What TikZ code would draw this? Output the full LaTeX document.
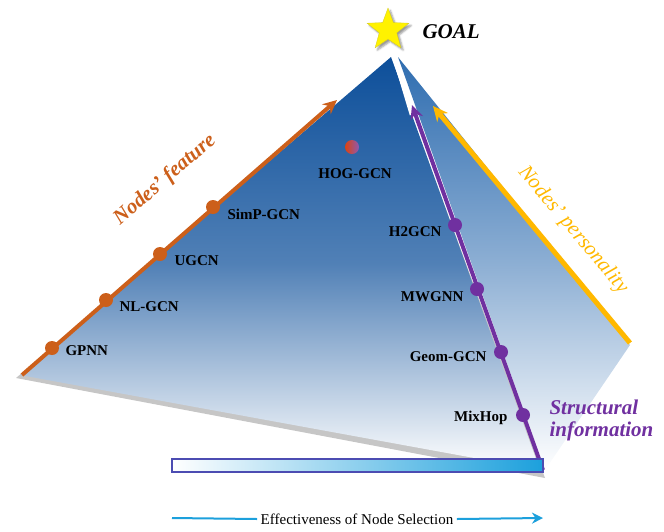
\documentclass[tikz,border=0pt]{standalone}
\usepackage{fontspec}
\setmainfont{Liberation Serif}
\usetikzlibrary{shapes.geometric,arrows.meta,shadows.blur}
\definecolor{dblue}{HTML}{0D4F9A}
\definecolor{rblue}{HTML}{2F6DB0}
\definecolor{oran}{HTML}{CC5F1A}
\definecolor{purp}{HTML}{7030A0}
\definecolor{yell}{HTML}{FFB800}
\definecolor{barb}{HTML}{1CA0DC}
\tikzset{
 odot/.style={circle,fill=oran,inner sep=0pt,minimum size=14pt},
 pdot/.style={circle,fill=purp,inner sep=0pt,minimum size=14pt},
 lab/.style={font=\bfseries\fontsize{15}{17}\selectfont},
 big/.style={font=\bfseries\itshape\fontsize{21}{22}\selectfont}
}
\begin{document}
\begin{tikzpicture}[x=1pt,y=-1pt]
\useasboundingbox (0,0) rectangle (664,531);
% faces
\fill[gray!45] (391,60) -- (16,378) -- (545,478) -- cycle;
\shade[top color=dblue,bottom color=white,middle color=dblue!72!white] (391,57) -- (20,375) -- (540,470) -- cycle;
\shade[top color=rblue,bottom color=white,middle color=rblue!55!white] (398,57) -- (630,345) -- (545,470) -- cycle;
\draw[white,line width=2.5pt] (394,58) -- (411,115);
% orange
\coordinate (o0) at (22,375); \coordinate (o1) at (337,100);
\draw[oran,line width=4pt,-{Stealth[length=14pt,width=13pt]}] (o0) -- (o1);
\node[odot] (gp) at (52,348) {}; \node[lab,anchor=west] at (62,351) {GPNN};
\node[odot] (nl) at (106,300) {}; \node[lab,anchor=west] at (116,307) {NL-GCN};
\node[odot] (ug) at (160,254) {}; \node[lab,anchor=west] at (171,261) {UGCN};
\node[odot] (sp) at (213,207) {}; \node[lab,anchor=west] at (224,214) {SimP-GCN};
\node[text=oran,font=\bfseries\itshape\fontsize{21}{22}\selectfont,rotate=41] (nf) at (165,180) {Nodes' feature};
% HOG
\node[circle,inner sep=0pt,minimum size=14pt,left color=oran!70!red,right color=purp!80] (hog) at (352,147) {};
\node[lab] at (355,174) {HOG-GCN};
% purple
\coordinate (p0) at (543,470); \coordinate (p1) at (412,105);
\draw[purp,line width=4pt,-{Stealth[length=14pt,width=13pt]}] (p0) -- (p1);
\node[pdot] (h2) at (455,225) {}; \node[lab,anchor=east] at (445,232) {H2GCN};
\node[pdot] (mw) at (477,289) {}; \node[lab,anchor=east] at (467,297) {MWGNN};
\node[pdot] (ge) at (501,352) {}; \node[lab,anchor=east] at (490,357) {Geom-GCN};
\node[pdot] (mh) at (523,415) {}; \node[lab,anchor=east] at (511,418) {MixHop};
\node[text=purp,big,align=left,anchor=west] (si) at (546,420) {Structural\\information};
% yellow
\coordinate (y0) at (630,343); \coordinate (y1) at (433,106);
\draw[yell,line width=5pt,-{Stealth[length=15pt,width=14pt]}] (y0) -- (y1);
\node[text=yell,font=\itshape\fontsize{21}{22}\selectfont,rotate=-50] (np) at (573,230) {Nodes' personality};
% goal
\node[star,star points=5,star point ratio=2.4,fill=yellow,draw=yellow!80!black,line width=0.3pt,minimum size=44pt,inner sep=0pt,blur shadow] (st) at (388,30) {};
\node[big,anchor=west] (goal) at (419,32) {GOAL};
% bar
\shade[left color=white,right color=barb,draw=blue!40!gray,line width=1.2pt] (172,459) rectangle (543,472);
\node[font=\fontsize{15}{17}\selectfont] (eff) at (357,519) {Effectiveness of Node Selection};
\coordinate (a0) at (172,518); \coordinate (a1) at (543,518);
\draw[barb,line width=2pt] (a0) -- (eff.west);
\draw[barb,line width=2pt,-{Stealth[length=11pt,width=11pt]}] (eff.east) -- (a1);
\end{tikzpicture}
\end{document}
